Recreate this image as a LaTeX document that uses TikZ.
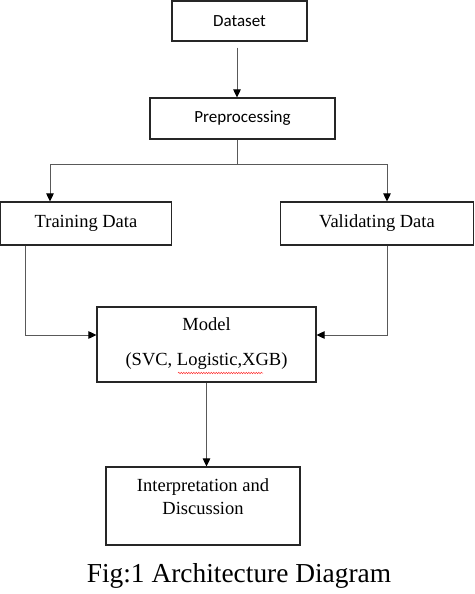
\documentclass[tikz,border=0pt]{standalone}
\usepackage{fontspec}
\setmainfont{Liberation Serif}
\newfontfamily\calib{Carlito}
\usetikzlibrary{arrows.meta,decorations.pathmorphing}
\begin{document}
\begin{tikzpicture}[x=1pt,y=-1pt,
  box/.style={draw=black!85,line width=1.1pt,rectangle,inner sep=0pt,anchor=center},
  sanstext/.style={font=\calib\fontsize{17}{20}\selectfont},
  sertext/.style={font=\fontsize{18.5}{22}\selectfont},
  line/.style={draw=black!65,line width=0.9pt},
  arrow/.style={line,-{Triangle[length=8pt,width=7.5pt,fill=black,color=black]}}]
\useasboundingbox[fill=white] (0,0) rectangle (474,594);
\node[box,sanstext,minimum width=135,minimum height=40] (ds) at (239.5,21) {Dataset};
\node[box,sanstext,minimum width=185,minimum height=41] (pp) at (242.5,118.5) {Preprocessing};
\node[box,sertext,minimum width=171,minimum height=43] (tr) at (86,223.5) {\raisebox{3pt}{Training Data}};
\node[box,sertext,minimum width=193,minimum height=43] (va) at (377,223.5) {\raisebox{3pt}{Validating Data}};
\node[box,minimum width=219,minimum height=75] (md) at (206.5,344.5) {};
\node[sertext,align=center,font=\fontsize{18.5}{35}\selectfont] (mdt) at (206.5,344) {Model\\(SVC, Logistic,XGB)};
\node[box,minimum width=194,minimum height=78] (ip) at (203,506) {};
\node[sertext,align=center,font=\fontsize{18.5}{23}\selectfont] (ipt) at (203,497) {Interpretation and\\Discussion};
\node[font=\fontsize{27.4}{32}\selectfont] (cap) at (239,576) {Fig:1 Architecture Diagram};
% squiggle under Logistic
\draw[red!80,line width=0.5pt,decorate,decoration={snake,amplitude=0.7pt,segment length=2.5pt}] (178,373) -- (263,373);
% connectors
\draw[arrow] ([xshift=-2.5pt,yshift=-6pt]ds.south) -- ([xshift=-2.5pt]ds.south |- pp.north);
\coordinate (sp) at (237,164);
\coordinate (sl) at (50,164);
\coordinate (sr) at (387,164);
\draw[line] (sp |- pp.south) -- (sp);
\draw[arrow] (sp) -- (sl) -- (sl |- tr.north);
\draw[arrow] (sp) -- (sr) -- (sr |- va.north);
\coordinate (tl) at (25,335);
\coordinate (vr) at (387,335);
\draw[arrow] (tl |- tr.south) -- (tl) -- (tl -| md.west);
\draw[arrow] (vr |- va.south) -- (vr) -- (vr -| md.east);
\draw[arrow] (md.south) -- (md.south |- ip.north);
\end{tikzpicture}
\end{document}
